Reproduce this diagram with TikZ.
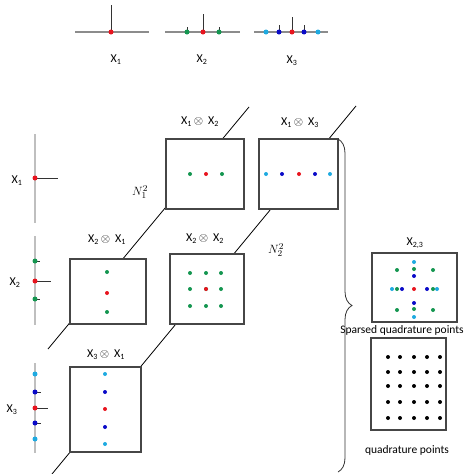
\documentclass[tikz,border=0pt]{standalone}
\usepackage{fontspec}
\setmainfont{Carlito}
\usetikzlibrary{decorations.pathreplacing}
\definecolor{ptred}{RGB}{232,20,30}
\definecolor{ptgreen}{RGB}{20,150,80}
\definecolor{ptblue}{RGB}{10,10,200}
\definecolor{ptcyan}{RGB}{30,170,225}
\definecolor{boxgray}{RGB}{70,70,70}

\begin{document}
\begin{tikzpicture}
  [x=1pt,y=-1pt,every node/.style={inner sep=0pt}]
 \tikzset{box/.style={draw=boxgray,line width=1.2pt,fill=white},
   dot/.style={circle,fill=#1,minimum size=4pt},
   bigdot/.style={circle,fill=#1,minimum size=5pt},
   axis/.style={draw=black!45,line width=1.1pt},
   vaxis/.style={draw=black!25,line width=1.4pt},
   stick/.style={draw=black!80,line width=0.8pt},
   lbl/.style={font=\fontsize{12}{14}\selectfont},
   small/.style={font=\fontsize{11.5}{13}\selectfont}}
 \useasboundingbox (0,0) rectangle (474,474);

  % one dimensional rules, top row
  \draw[axis] (75,32) -- (149,32);
  \draw[axis] (165,32) -- (240,32);
  \draw[axis] (254,32) -- (328,32);
  \draw[stick] (111,32) -- (111,5);
  \draw[stick] (203,32) -- (203,14);
  \draw[stick] (187,32) -- (187,27);
  \draw[stick] (219,32) -- (219,27);
  \draw[stick] (292,32) -- (292,17);
  \draw[stick] (279,32) -- (279,25);
  \draw[stick] (304,32) -- (304,25);
  \node[bigdot=ptred] (t11) at (111,32) {};
 \foreach \x/\c in {187/ptgreen,203/ptred,219/ptgreen}
    \node[bigdot=\c] at (\x,32) {};
 \foreach \x/\c in {266/ptcyan,279/ptblue,292/ptred,304/ptblue,318/ptcyan}
    \node[bigdot=\c] at (\x,32) {};
  \node[lbl] (tx1) at (116,60) {X\textsubscript{1}};
  \node[lbl] (tx2) at (202,60) {X\textsubscript{2}};
  \node[lbl] (tx3) at (292,61) {X\textsubscript{3}};

  % one dimensional rules, left column
  \draw[vaxis] (35,134) -- (35,223);
  \draw[vaxis] (35,236) -- (35,325);
  \draw[vaxis] (35,363) -- (35,453);
  \draw[stick] (35,178) -- (58,178);
  \draw[stick] (35,281) -- (51,281);
  \draw[stick] (35,261) -- (40,261);
  \draw[stick] (35,299) -- (40,299);
  \draw[stick] (35,408) -- (48,408);
  \draw[stick] (35,392) -- (41,392);
  \draw[stick] (35,423) -- (41,423);
  \node[bigdot=ptred] (l11) at (35,178) {};
 \foreach \y/\c in {261/ptgreen,281/ptred,299/ptgreen}
    \node[bigdot=\c] at (35,\y) {};
 \foreach \y/\c in {374/ptcyan,392/ptblue,408/ptred,423/ptblue,439/ptcyan}
    \node[bigdot=\c] at (35,\y) {};
  \node[lbl] (lx1) at (17,181) {X\textsubscript{1}};
  \node[lbl] (lx2) at (15,283) {X\textsubscript{2}};
  \node[lbl] (lx3) at (12,410) {X\textsubscript{3}};

  % diagonals behind the boxes
  \coordinate (da1) at (48,349);
  \coordinate (da2) at (249,107);
  \coordinate (db1) at (52,474);
  \coordinate (db2) at (356,106);
  \draw[line width=0.8pt] (da1) -- (da2);
  \draw[line width=0.8pt] (db1) -- (db2);

  % tensor product boxes
  \node[box,minimum width=78pt,minimum height=70pt] (b12) at (205,174) {};
  \node[box,minimum width=79pt,minimum height=70pt] (b13) at (298.5,174) {};
  \node[box,minimum width=76pt,minimum height=65pt] (b21) at (108,291.5) {};
  \node[box,minimum width=74pt,minimum height=70pt] (b22) at (207,289) {};
  \node[box,minimum width=71pt,minimum height=85pt] (b31) at (105.5,409.5) {};
  \node[box,minimum width=85pt,minimum height=69pt] (bsp) at (414.5,287.5) {};
  \node[box,minimum width=75pt,minimum height=92pt] (bqp) at (408.5,384) {};

 \foreach \x/\c in {190/ptgreen,206/ptred,222/ptgreen}
    \node[dot=\c] at (\x,174) {};
 \foreach \x/\c in {266/ptcyan,282/ptblue,299/ptred,315/ptblue,330/ptcyan}
    \node[dot=\c] at (\x,174) {};
 \foreach \y/\c in {272/ptgreen,293/ptred,312/ptgreen}
    \node[dot=\c] at (107,\y) {};
 \foreach \x in {190,206,221}
   \foreach \y in {273,289,306}
    \node[dot=ptgreen] at (\x,\y) {};
  \node[dot=ptred] at (206,289) {};
 \foreach \y/\c in {374/ptcyan,392/ptblue,409/ptred,427/ptblue,444/ptcyan}
    \node[dot=\c] at (105,\y) {};

  % sparse grid
 \foreach \y/\c in {262/ptcyan,269/ptgreen,276/ptblue,303/ptblue,309/ptgreen,317/ptcyan}
    \node[dot=\c] at (414,\y) {};
 \foreach \x/\c in {392/ptcyan,397/ptgreen,402/ptblue,427/ptblue,433/ptgreen,437/ptcyan}
    \node[dot=\c] at (\x,289) {};
 \foreach \x/\y in {397/270,433/270,397/310,433/310}
    \node[dot=ptgreen] at (\x,\y) {};
  \node[dot=ptred] at (414,289) {};

  % full grid
 \foreach \x in {388,400,414,427,440}
   \foreach \y in {357,372,386,402,418}
    \node[dot=black] at (\x,\y) {};

  \node[lbl] (l12) at (200,122) {X\textsubscript{1}\,$\otimes$\, X\textsubscript{2}};
  \node[lbl] (l13) at (300,123) {X\textsubscript{1}\,$\otimes$\, X\textsubscript{3}};
  \node[lbl] (l21) at (107,240) {X\textsubscript{2}\,$\otimes$\, X\textsubscript{1}};
  \node[lbl] (l22) at (205,239) {X\textsubscript{2}\,$\otimes$\, X\textsubscript{2}};
  \node[lbl] (l31) at (106,355) {X\textsubscript{3}\,$\otimes$\, X\textsubscript{1}};
  \node[lbl] (l23) at (415,243) {X\textsubscript{2,3}};
  \node[small] (lsp) at (402,330) {Sparsed quadrature points};
  \node[small] (lqp) at (407,450) {quadrature points};
  \node[font=\fontsize{13}{15}\selectfont] (n1) at (140,192) {$N_1^2$};
  \node[font=\fontsize{13}{15}\selectfont] (n2) at (276,250) {$N_2^2$};

  % brace
  \coordinate (br1) at (338,139);
  \coordinate (br2) at (338,472);
  \draw[black!80,line width=0.8pt,decorate,decoration={brace,amplitude=14pt}] (br1) -- (br2);

\end{tikzpicture}
\end{document}
